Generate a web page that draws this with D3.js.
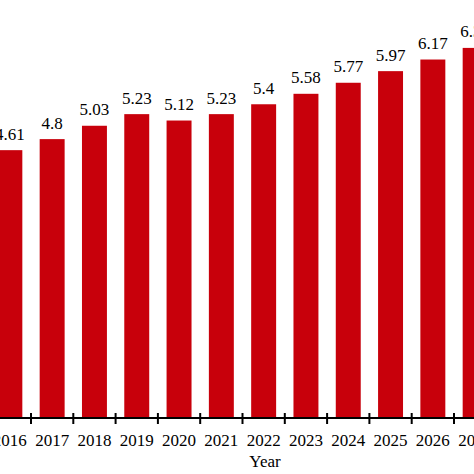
<!DOCTYPE html>
<html>
<head>
<meta charset="utf-8">
<script src="https://cdn.jsdelivr.net/npm/d3@7"></script>
<style>
  html, body { margin: 0; padding: 0; background: #fff; }
  svg { display: block; }
  text { font-family: "Liberation Serif", "Times New Roman", Times, serif; }
</style>
</head>
<body>
<div id="chart"></div>
<script>
const years = ['2016', '2017', '2018', '2019', '2020', '2021', '2022', '2023', '2024', '2025', '2026', '2027'];
const values = [4.61, 4.8, 5.03, 5.23, 5.12, 5.23, 5.4, 5.58, 5.77, 5.97, 6.17, 6.37];
const valueLabels = ['4.61', '4.8', '5.03', '5.23', '5.12', '5.23', '5.4', '5.58', '5.77', '5.97', '6.17', '6.37'];

const width = 474,
  height = 474,
  axisY = 418,
  serif = '"Liberation Serif", "Times New Roman", Times, serif';

const svg = d3
  .select('#chart')
  .append('svg')
  .attr('width', width)
  .attr('height', height);

const xScale = d3
  .scaleBand()
  .domain(years)
  .range([-11.3, 496.3])
  .paddingInner(0.41)
  .paddingOuter(0.205);

const yScale = d3.scaleLinear().domain([0, 7.2]).range([axisY, axisY - 7.2 * 58.1]);

svg
  .selectAll('rect.bar')
  .data(values)
  .enter()
  .append('rect')
  .attr('class', 'bar')
  .attr('x', (d, i) => xScale(years[i]))
  .attr('y', (d) => yScale(d))
  .attr('width', xScale.bandwidth())
  .attr('height', (d) => yScale(0) - yScale(d))
  .attr('fill', '#c8000b');

svg
  .selectAll('text.value')
  .data(values)
  .enter()
  .append('text')
  .attr('class', 'value')
  .attr('x', (d, i) => xScale(years[i]) + xScale.bandwidth() / 2)
  .attr('y', (d) => yScale(d) - 10.5)
  .attr('text-anchor', 'middle')
  .attr('font-family', serif)
  .attr('font-size', 17)
  .text((d, i) => valueLabels[i]);

// x axis: labels under the bars, ticks between them
const xAxis = d3.axisBottom(xScale).tickSize(0).tickPadding(0);

const gx = svg
  .append('g')
  .attr('id', 'x-axis')
  .attr('transform', `translate(0, ${axisY})`)
  .call(xAxis)
  .attr('font-family', serif)
  .attr('font-size', 17);

gx.select('.domain').remove();
gx.selectAll('text')
  .attr('dy', null)
  .attr('y', 28)
  .attr('fill', '#000');

gx.append('line')
  .attr('x1', 0)
  .attr('x2', width)
  .attr('stroke', '#000')
  .attr('stroke-width', 2);

const step = xScale.step();
gx.selectAll('line.sep')
  .data(years)
  .enter()
  .append('line')
  .attr('class', 'sep')
  .attr('x1', (d) => xScale(d) + xScale.bandwidth() + (step - xScale.bandwidth()) / 2)
  .attr('x2', (d) => xScale(d) + xScale.bandwidth() + (step - xScale.bandwidth()) / 2)
  .attr('y1', -5)
  .attr('y2', 6)
  .attr('stroke', '#000')
  .attr('stroke-width', 2);

svg
  .append('text')
  .attr('x', 265)
  .attr('y', 467)
  .attr('text-anchor', 'middle')
  .attr('font-family', serif)
  .attr('font-size', 17)
  .text('Year');
</script>
</body>
</html>
